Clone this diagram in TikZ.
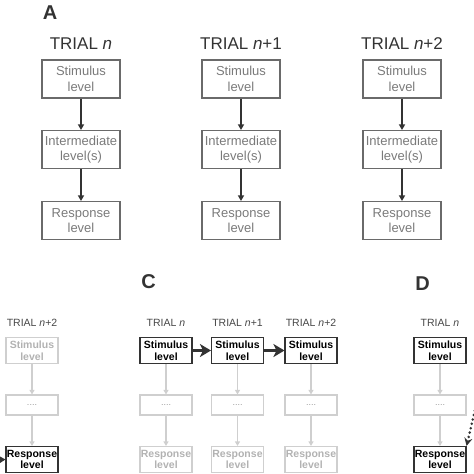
\documentclass[tikz,border=0pt]{standalone}
\usepackage{fontspec}
\setmainfont{Liberation Sans}
\usetikzlibrary{arrows.meta}

\definecolor{agray}{HTML}{6A6A6A}
\definecolor{atext}{HTML}{7A7A7A}
\definecolor{dark}{HTML}{333333}
\definecolor{fadeline}{HTML}{CFCFCF}
\definecolor{fadetext}{HTML}{B2B2B2}
\definecolor{dotgray}{HTML}{9A9A9A}

\tikzset{
    abox/.style={draw=agray, line width=1.1pt, minimum width=78pt, minimum height=38pt,
        inner sep=0pt, align=center, text=atext, font=\fontsize{13}{15.5}\selectfont},
    onbox/.style={draw=dark, line width=1.1pt, minimum width=52pt, minimum height=26pt,
        inner sep=0pt, align=center, text=black, font=\bfseries\fontsize{10.5}{11.5}\selectfont},
    offbox/.style={onbox, draw=fadeline, text=fadetext},
    dotbox/.style={offbox, minimum height=20pt, text=dotgray, font=\fontsize{9}{9}\selectfont},
    panel/.style={inner sep=0pt, text=dark, font=\bfseries\fontsize{20}{20}\selectfont},
    atitle/.style={inner sep=0pt, text=dark, font=\fontsize{17}{17}\selectfont},
    btitle/.style={inner sep=0pt, text=dark!90, font=\fontsize{10.5}{10.5}\selectfont},
    aarrow/.style={-{Triangle[length=5.5pt, width=6pt]}, draw=dark, line width=1.5pt},
    farrow/.style={-{Triangle[length=4.5pt, width=5pt]}, draw=fadeline, line width=1.4pt},
    barrow/.style={-{Stealth[length=11pt, width=13pt, inset=3pt]}, draw=dark, line width=3.6pt},
    dotarrow/.style={-{Stealth[length=8pt, width=8pt]}, draw=dark, line width=2.8pt,
        line cap=round, dash pattern=on 0pt off 4.5pt}
}

\newcommand{\an}{\node[abox]}
\newcommand{\on}{\node[onbox]}
\newcommand{\fn}{\node[offbox]}
\newcommand{\dn}{\node[dotbox]}

\begin{document}
\begin{tikzpicture}[x=1pt, y=-1pt]
    \clip (0,0) rectangle (474,474);

    % panel A
    \node[panel] (la) at (50,13) {A};
    \node[atitle] (at1) at (81,44) {TRIAL \textit{n}};
    \node[atitle] (at2) at (241,44) {TRIAL \textit{n}+1};
    \node[atitle] (at3) at (402,44) {TRIAL \textit{n}+2};

    \an (as1) at (81,79) {Stimulus\\level};
    \an (ai1) at (81,149.5) {Intermediate\\level(s)};
    \an (ar1) at (81,220.5) {Response\\level};
    \an (as2) at (241,79) {Stimulus\\level};
    \an (ai2) at (241,149.5) {Intermediate\\level(s)};
    \an (ar2) at (241,220.5) {Response\\level};
    \an (as3) at (402,79) {Stimulus\\level};
    \an (ai3) at (402,149.5) {Intermediate\\level(s)};
    \an (ar3) at (402,220.5) {Response\\level};

    \draw[aarrow] (as1) -- (ai1);
    \draw[aarrow] (ai1) -- (ar1);
    \draw[aarrow] (as2) -- (ai2);
    \draw[aarrow] (ai2) -- (ar2);
    \draw[aarrow] (as3) -- (ai3);
    \draw[aarrow] (ai3) -- (ar3);

    % panel B, last trial only
    \node[btitle] (bt3) at (32,322.5) {TRIAL \textit{n}+2};
    \fn (bs3) at (32,350.5) {Stimulus\\level};
    \dn (bd3) at (32,405) {....};
    \on (br3) at (32,459.5) {Response\\level};
    \coordinate (bin) at (-40,461);

    \draw[farrow] (bs3) -- (bd3);
    \draw[farrow] (bd3) -- (br3);
    \draw[barrow] (bin) -- (br3.west);

    % panel C
    \node[panel] (lc) at (148.5,281.5) {C};
    \node[btitle] (ct1) at (166,322.5) {TRIAL \textit{n}};
    \node[btitle] (ct2) at (237.5,322.5) {TRIAL \textit{n}+1};
    \node[btitle] (ct3) at (311,322.5) {TRIAL \textit{n}+2};

    \on (cs1) at (166,350.5) {Stimulus\\level};
    \dn (cd1) at (166,405) {....};
    \fn (cr1) at (166,459.5) {Response\\level};
    \on (cs2) at (237.5,350.5) {Stimulus\\level};
    \dn (cd2) at (237.5,405) {....};
    \fn (cr2) at (237.5,459.5) {Response\\level};
    \on (cs3) at (311,350.5) {Stimulus\\level};
    \dn (cd3) at (311,405) {....};
    \fn (cr3) at (311,459.5) {Response\\level};

    \draw[farrow] (cs1) -- (cd1);
    \draw[farrow] (cd1) -- (cr1);
    \draw[farrow] (cs2) -- (cd2);
    \draw[farrow] (cd2) -- (cr2);
    \draw[farrow] (cs3) -- (cd3);
    \draw[farrow] (cd3) -- (cr3);
    \draw[barrow] (cs1) -- (cs2);
    \draw[barrow] (cs2) -- (cs3);

    % panel D
    \node[panel] (ld) at (422.5,283.5) {D};
    \node[btitle] (dt1) at (440,322.5) {TRIAL \textit{n}};

    \on (ds1) at (440,350.5) {Stimulus\\level};
    \dn (dd1) at (440,405) {....};
    \on (dr1) at (440,459.5) {Response\\level};
    \coordinate (din) at (482,380);

    \draw[farrow] (ds1) -- (dd1);
    \draw[farrow] (dd1) -- (dr1);
    \draw[dotarrow] (din) -- (dr1.north east);
\end{tikzpicture}
\end{document}
